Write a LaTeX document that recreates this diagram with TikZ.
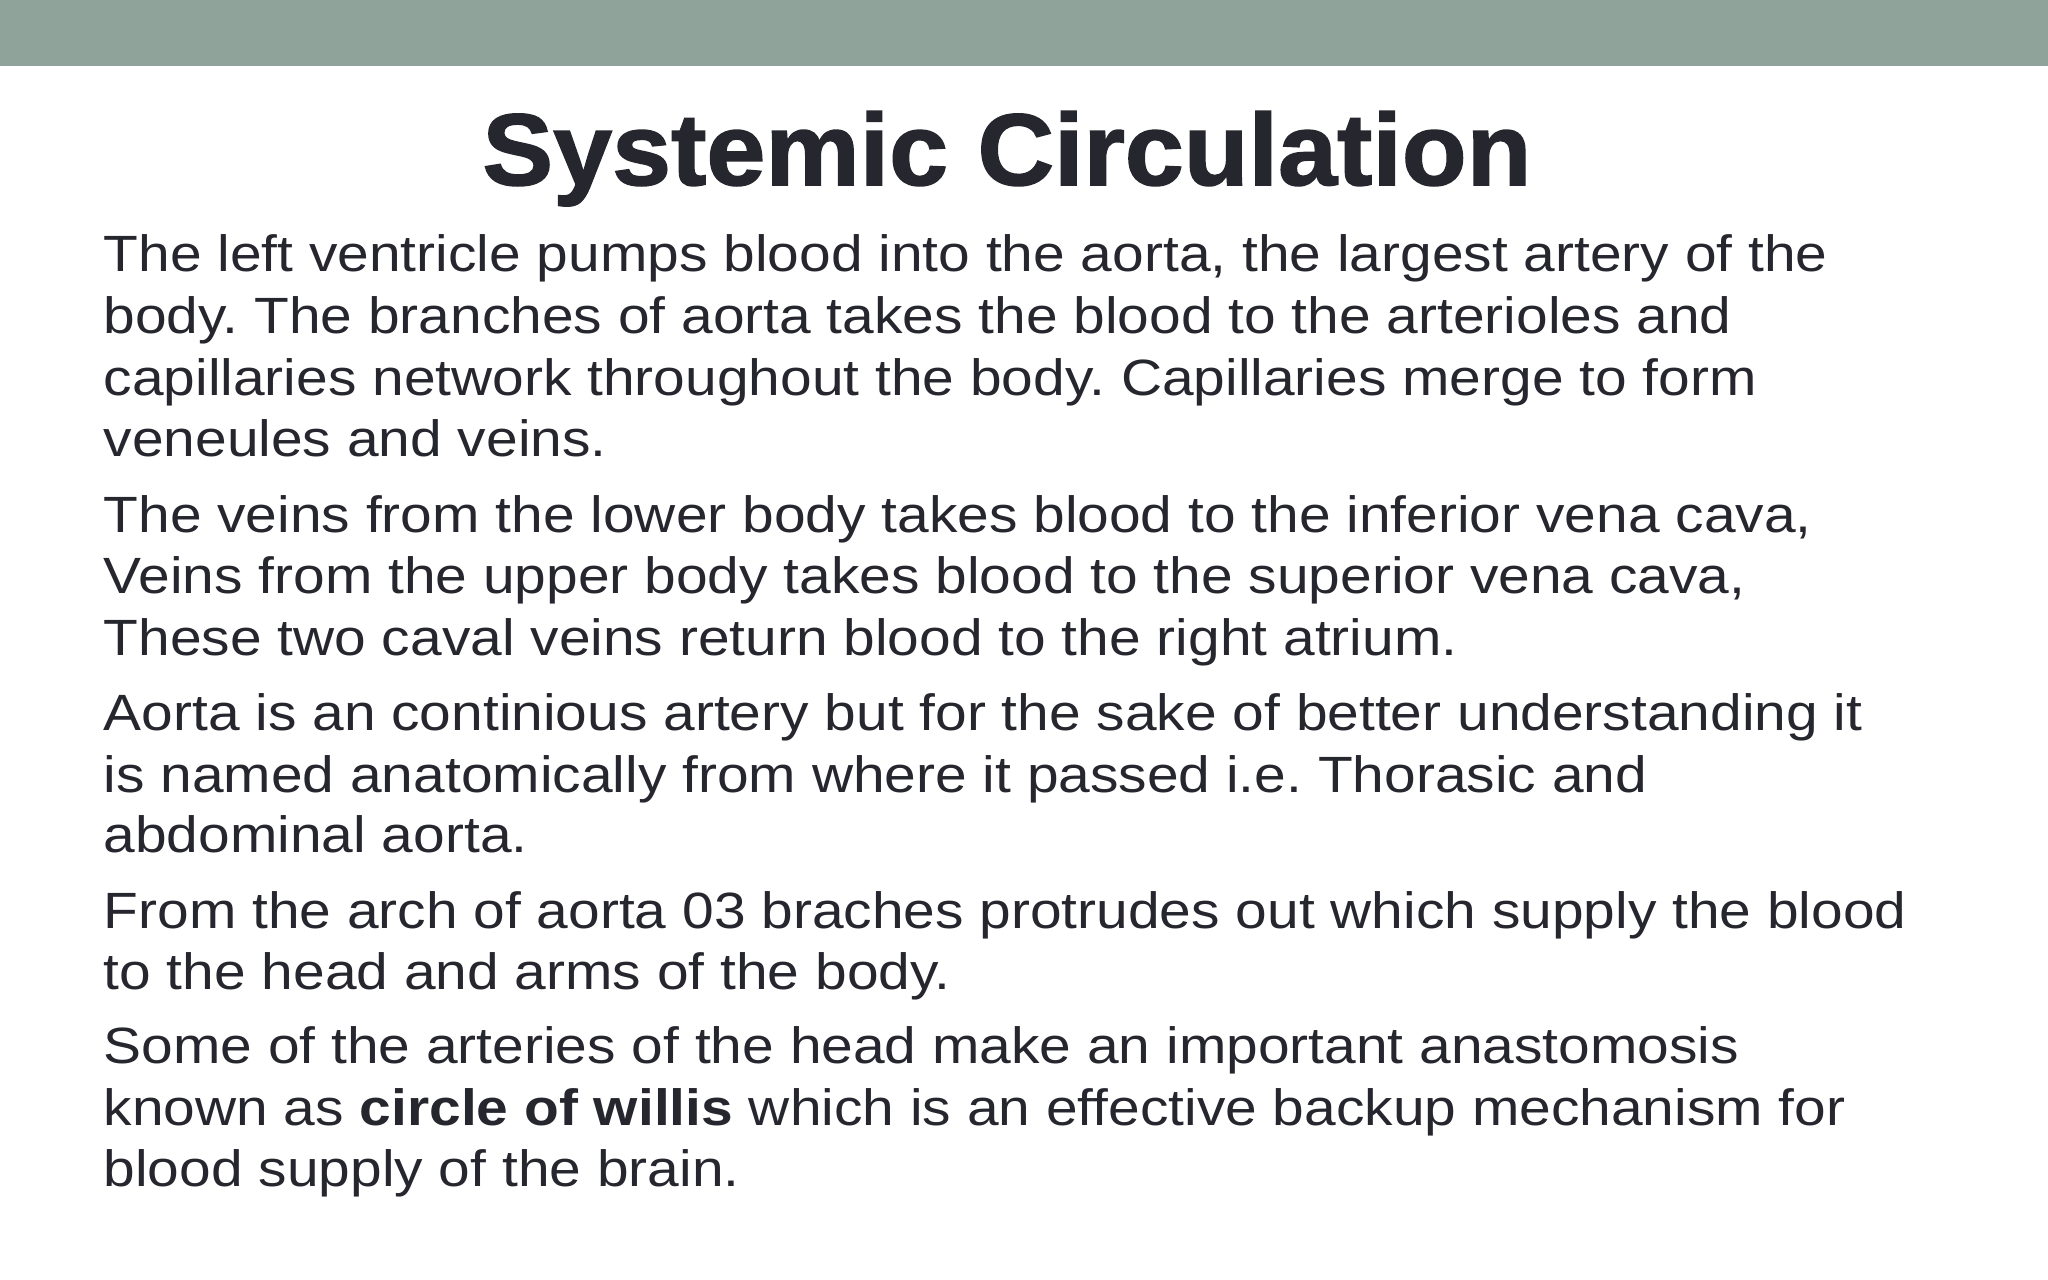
\documentclass[tikz,border=0pt]{standalone}
\usepackage{fontspec}
\setmainfont[FakeStretch=1.116]{Liberation Sans}
\newfontfamily\titlefont[FakeStretch=1.04,FakeBold=1.5]{Liberation Sans Bold}
\definecolor{bar}{HTML}{8FA39A}
\definecolor{ink}{HTML}{26262E}
\frenchspacing
\begin{document}
\frenchspacing
\begin{tikzpicture}[x=0.01cm,y=-0.01cm,
  ln/.style={anchor=base west,inner sep=0pt,text=ink,font=\fontsize{14.5}{17}\selectfont\frenchspacing}]
\useasboundingbox (0,0) rectangle (2048,1280);
\fill[bar] (0,0) rectangle (2048,66);
\node[anchor=base,inner sep=0pt,text=ink,font=\fontsize{29}{36}\titlefont] (title) at (1007,185) {Systemic Circulation};
\node[ln] (l1) at (103,272) {The left ventricle pumps blood into the aorta, the largest artery of the};
\node[ln] (l2) at (103,334) {body. The branches of aorta takes the blood to the arterioles and};
\node[ln] (l3) at (103,396) {capillaries network throughout the body. Capillaries merge to form};
\node[ln] (l4) at (103,457) {veneules and veins.};
\node[ln] (l5) at (103,533) {The veins from the lower body takes blood to the inferior vena cava,};
\node[ln] (l6) at (103,594) {Veins from the upper body takes blood to the superior vena cava,};
\node[ln] (l7) at (103,656) {These two caval veins return blood to the right atrium.};
\node[ln] (l8) at (103,731) {Aorta is an continious artery but for the sake of better understanding it};
\node[ln] (l9) at (103,793) {is named anatomically from where it passed i.e. Thorasic and};
\node[ln] (l10) at (103,853) {abdominal aorta.};
\node[ln] (l11) at (103,929) {From the arch of aorta 03 braches protrudes out which supply the blood};
\node[ln] (l12) at (103,990) {to the head and arms of the body.};
\node[ln] (l13) at (103,1064) {Some of the arteries of the head make an important anastomosis};
\node[ln] (l14) at (103,1126) {known as \textbf{circle of willis} which is an effective backup mechanism for};
\node[ln] (l15) at (103,1187) {blood supply of the brain.};
\end{tikzpicture}
\end{document}
